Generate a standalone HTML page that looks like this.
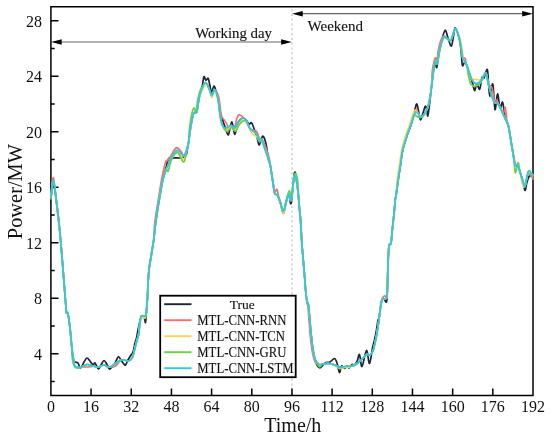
<!DOCTYPE html>
<html><head><meta charset="utf-8"><title>Power forecast</title>
<style>html,body{margin:0;padding:0;background:#fff}svg{display:block}text{font-family:"Liberation Serif",serif;fill:#111}.lg text{stroke:#111;stroke-width:0.12px}</style></head>
<body>
<svg width="550" height="439" viewBox="0 0 550 439">
<rect width="550" height="439" fill="#fff"/>
<line x1="291.95" y1="9" x2="291.95" y2="395.50" stroke="#b4b4b4" stroke-width="1" stroke-dasharray="2.2 2.6"/>
<rect x="50.90" y="6.75" width="482.10" height="388.75" fill="none" stroke="#000" stroke-width="1.5"/>
<path d="M50.90,353.85h7.6M50.90,298.31h7.6M50.90,242.78h7.6M50.90,187.24h7.6M50.90,131.71h7.6M50.90,76.17h7.6M50.90,20.63h7.6M50.90,381.62h3.8M50.90,326.08h3.8M50.90,270.54h3.8M50.90,215.01h3.8M50.90,159.47h3.8M50.90,103.94h3.8M50.90,48.40h3.8M91.08,395.50v-7M131.25,395.50v-7M171.43,395.50v-7M211.60,395.50v-7M251.78,395.50v-7M291.95,395.50v-7M332.12,395.50v-7M372.30,395.50v-7M412.48,395.50v-7M452.65,395.50v-7M492.82,395.50v-7" stroke="#000" stroke-width="1.5" fill="none"/>
<g fill="none" stroke-width="1.7" stroke-linejoin="round" stroke-linecap="round">
<path stroke="#1d2435" d="M51.00,198.00C51.42,195.67 52.33,181.33 53.50,184.00C54.67,186.67 56.82,204.67 58.00,214.00C59.18,223.33 59.67,229.50 60.60,240.00C61.53,250.50 62.67,265.33 63.60,277.00C64.53,288.67 65.68,304.17 66.20,310.00C66.70,315.83 66.40,311.37 66.70,312.00C67.00,312.63 67.45,311.13 68.00,313.80C68.55,316.47 69.40,322.80 70.00,328.00C70.60,333.20 71.10,340.00 71.60,345.00C72.10,350.00 72.43,355.17 73.00,358.00C73.57,360.83 74.17,361.17 75.00,362.00C75.83,362.83 77.08,362.00 78.00,363.00C78.92,364.00 79.50,368.17 80.50,368.00C81.50,367.83 82.92,363.67 84.00,362.00C85.08,360.33 86.00,358.17 87.00,358.00C88.00,357.83 89.00,359.83 90.00,361.00C91.00,362.17 92.17,364.67 93.00,365.00C93.83,365.33 94.08,362.33 95.00,363.00C95.92,363.67 97.42,368.83 98.50,369.00C99.58,369.17 100.58,365.42 101.50,364.00C102.42,362.58 103.08,360.42 104.00,360.50C104.92,360.58 106.08,363.08 107.00,364.50C107.92,365.92 108.67,368.58 109.50,369.00C110.33,369.42 111.25,367.67 112.00,367.00C112.75,366.33 113.25,366.17 114.00,365.00C114.75,363.83 115.75,361.42 116.50,360.00C117.25,358.58 117.75,356.50 118.50,356.50C119.25,356.50 120.17,358.83 121.00,360.00C121.83,361.17 122.75,362.67 123.50,363.50C124.25,364.33 124.75,365.58 125.50,365.00C126.25,364.42 127.08,361.67 128.00,360.00C128.92,358.33 130.17,356.33 131.00,355.00C131.83,353.67 132.33,354.00 133.00,352.00C133.67,350.00 134.42,345.33 135.00,343.00C135.58,340.67 136.00,340.17 136.50,338.00C137.00,335.83 137.42,332.83 138.00,330.00C138.58,327.17 139.42,323.33 140.00,321.00C140.58,318.67 140.83,316.75 141.50,316.00C142.17,315.25 143.33,315.42 144.00,316.50C144.67,317.58 145.10,323.25 145.50,322.50C145.90,321.75 146.07,316.25 146.40,312.00C146.73,307.75 147.23,301.50 147.50,297.00C147.77,292.50 147.75,289.50 148.00,285.00C148.25,280.50 148.45,275.00 149.00,270.00C149.55,265.00 150.52,260.00 151.30,255.00C152.08,250.00 153.00,245.17 153.70,240.00C154.40,234.83 154.87,229.00 155.50,224.00C156.13,219.00 156.75,214.83 157.50,210.00C158.25,205.17 159.15,199.83 160.00,195.00C160.85,190.17 161.60,185.50 162.60,181.00C163.60,176.50 165.02,171.67 166.00,168.00C166.98,164.33 167.50,160.63 168.50,159.00C169.50,157.37 170.78,158.40 172.00,158.20C173.22,158.00 174.63,157.83 175.80,157.80C176.97,157.77 177.80,158.05 179.00,158.00C180.20,157.95 181.83,157.92 183.00,157.50C184.17,157.08 185.23,157.08 186.00,155.50C186.77,153.92 187.13,150.42 187.60,148.00C188.07,145.58 188.37,144.00 188.80,141.00C189.23,138.00 189.47,134.40 190.20,130.00C190.93,125.60 192.45,117.53 193.20,114.60C193.95,111.67 194.08,112.90 194.70,112.40C195.32,111.90 196.18,113.92 196.90,111.60C197.62,109.28 198.12,102.68 199.00,98.50C199.88,94.32 201.38,90.13 202.20,86.50C203.02,82.87 203.28,77.73 203.90,76.70C204.52,75.67 205.18,80.02 205.90,80.30C206.62,80.58 207.52,77.45 208.20,78.40C208.88,79.35 209.47,83.62 210.00,86.00C210.53,88.38 210.75,92.68 211.40,92.70C212.05,92.72 213.13,86.38 213.90,86.10C214.67,85.82 215.32,88.93 216.00,91.00C216.68,93.07 217.28,94.50 218.00,98.50C218.72,102.50 219.58,111.58 220.30,115.00C221.02,118.42 221.52,117.00 222.30,119.00C223.08,121.00 224.03,124.33 225.00,127.00C225.97,129.67 227.27,134.83 228.10,135.00C228.93,135.17 229.38,130.18 230.00,128.00C230.62,125.82 231.25,121.90 231.80,121.90C232.35,121.90 232.82,125.93 233.30,128.00C233.78,130.07 234.17,134.13 234.70,134.30C235.23,134.47 235.90,131.05 236.50,129.00C237.10,126.95 237.27,123.83 238.30,122.00C239.33,120.17 241.37,118.27 242.70,118.00C244.03,117.73 245.25,119.40 246.30,120.40C247.35,121.40 248.10,123.57 249.00,124.00C249.90,124.43 250.70,121.78 251.70,123.00C252.70,124.22 254.12,128.97 255.00,131.30C255.88,133.63 256.33,134.73 257.00,137.00C257.67,139.27 258.33,144.40 259.00,144.90C259.67,145.40 260.32,141.45 261.00,140.00C261.68,138.55 262.27,135.58 263.10,136.20C263.93,136.82 265.15,140.02 266.00,143.70C266.85,147.38 267.53,154.92 268.20,158.30C268.87,161.68 269.53,162.12 270.00,164.00C270.47,165.88 270.47,166.23 271.00,169.60C271.53,172.97 272.58,180.27 273.20,184.20C273.82,188.13 273.97,191.32 274.70,193.20C275.43,195.08 276.63,193.85 277.60,195.50C278.57,197.15 279.53,200.13 280.50,203.10C281.47,206.07 282.43,213.55 283.40,213.30C284.37,213.05 285.40,204.75 286.30,201.60C287.20,198.45 287.98,194.15 288.80,194.40C289.62,194.65 290.23,206.75 291.20,203.10C292.17,199.45 293.53,174.93 294.60,172.50C295.67,170.07 296.78,182.42 297.60,188.50C298.42,194.58 299.02,203.92 299.50,209.00C299.98,214.08 300.08,213.00 300.50,219.00C300.92,225.00 301.33,235.67 302.00,245.00C302.67,254.33 303.90,267.50 304.50,275.00C305.10,282.50 305.15,285.33 305.60,290.00C306.05,294.67 306.72,300.42 307.20,303.00C307.68,305.58 307.87,300.50 308.50,305.50C309.13,310.50 310.25,325.58 311.00,333.00C311.75,340.42 312.33,345.67 313.00,350.00C313.67,354.33 314.33,356.50 315.00,359.00C315.67,361.50 316.17,363.50 317.00,365.00C317.83,366.50 319.00,368.00 320.00,368.00C321.00,368.00 322.00,365.92 323.00,365.00C324.00,364.08 324.83,363.00 326.00,362.50C327.17,362.00 328.58,362.67 330.00,362.00C331.42,361.33 333.33,358.33 334.50,358.50C335.67,358.67 336.17,360.67 337.00,363.00C337.83,365.33 338.75,372.00 339.50,372.50C340.25,373.00 340.67,366.67 341.50,366.00C342.33,365.33 343.58,368.50 344.50,368.50C345.42,368.50 346.25,366.08 347.00,366.00C347.75,365.92 348.17,368.25 349.00,368.00C349.83,367.75 351.17,364.92 352.00,364.50C352.83,364.08 353.17,366.00 354.00,365.50C354.83,365.00 356.08,363.33 357.00,361.50C357.92,359.67 358.67,353.67 359.50,354.50C360.33,355.33 360.83,367.17 362.00,366.50C363.17,365.83 365.25,351.00 366.50,350.50C367.75,350.00 368.50,363.92 369.50,363.50C370.50,363.08 371.67,351.92 372.50,348.00C373.33,344.08 373.83,343.00 374.50,340.00C375.17,337.00 375.92,333.33 376.50,330.00C377.08,326.67 377.67,321.17 378.00,320.00C378.33,318.83 378.00,326.00 378.50,323.00C379.07,320.00 380.48,306.00 381.40,302.00C382.32,298.00 383.15,299.00 384.00,299.00C384.85,299.00 385.95,303.33 386.50,302.00C387.05,300.67 387.05,297.17 387.30,291.00C387.55,284.83 387.72,272.50 388.00,265.00C388.28,257.50 388.50,249.67 389.00,246.00C389.50,242.33 390.42,246.00 391.00,243.00C391.58,240.00 392.00,232.83 392.50,228.00C393.00,223.17 393.53,218.83 394.00,214.00C394.47,209.17 394.98,201.90 395.30,199.00C395.62,196.10 395.40,199.93 395.90,196.60C396.40,193.27 397.53,184.33 398.30,179.00C399.07,173.67 399.77,169.43 400.50,164.60C401.23,159.77 401.63,154.75 402.70,150.00C403.77,145.25 405.58,140.12 406.90,136.10C408.22,132.08 409.42,129.58 410.60,125.90C411.78,122.22 413.22,116.98 414.00,114.00C414.78,111.02 414.82,109.67 415.30,108.00C415.78,106.33 416.33,103.33 416.90,104.00C417.47,104.67 418.10,109.33 418.70,112.00C419.30,114.67 419.78,119.83 420.50,120.00C421.22,120.17 422.20,115.30 423.00,113.00C423.80,110.70 424.67,106.70 425.30,106.20C425.93,105.70 426.38,108.37 426.80,110.00C427.22,111.63 427.38,116.67 427.80,116.00C428.22,115.33 428.83,109.50 429.30,106.00C429.77,102.50 430.23,98.17 430.60,95.00C430.97,91.83 431.02,91.00 431.50,87.00C431.98,83.00 432.87,75.00 433.50,71.00C434.13,67.00 434.75,63.60 435.30,63.00C435.85,62.40 436.18,68.98 436.80,67.40C437.42,65.82 438.15,58.07 439.00,53.50C439.85,48.93 440.88,43.88 441.90,40.00C442.92,36.12 444.08,30.53 445.10,30.20C446.12,29.87 446.97,35.33 448.00,38.00C449.03,40.67 450.38,46.53 451.30,46.20C452.22,45.87 452.83,39.03 453.50,36.00C454.17,32.97 454.32,27.50 455.30,28.00C456.28,28.50 458.42,35.00 459.40,39.00C460.38,43.00 460.70,47.58 461.20,52.00C461.70,56.42 461.80,63.83 462.40,65.50C463.00,67.17 464.03,61.92 464.80,62.00C465.57,62.08 466.08,63.65 467.00,66.00C467.92,68.35 469.38,73.27 470.30,76.10C471.22,78.93 471.78,80.58 472.50,83.00C473.22,85.42 473.88,90.43 474.60,90.60C475.32,90.77 475.95,84.23 476.80,84.00C477.65,83.77 478.85,90.28 479.70,89.20C480.55,88.12 481.18,79.37 481.90,77.50C482.62,75.63 483.10,79.33 484.00,78.00C484.90,76.67 486.53,68.50 487.30,69.50C488.07,70.50 488.17,79.52 488.60,84.00C489.03,88.48 489.20,96.40 489.90,96.40C490.60,96.40 491.95,81.80 492.80,84.00C493.65,86.20 494.22,107.97 495.00,109.60C495.78,111.23 496.65,94.07 497.50,93.80C498.35,93.53 499.25,106.58 500.10,108.00C500.95,109.42 501.75,100.58 502.60,102.30C503.45,104.02 504.55,115.18 505.20,118.30C505.85,121.42 505.93,119.60 506.50,121.00C507.07,122.40 507.77,122.83 508.60,126.70C509.43,130.57 510.65,139.10 511.50,144.20C512.35,149.30 513.07,153.75 513.70,157.30C514.33,160.85 514.67,164.22 515.30,165.50C515.93,166.78 516.72,163.92 517.50,165.00C518.28,166.08 519.17,169.50 520.00,172.00C520.83,174.50 521.67,176.92 522.50,180.00C523.33,183.08 524.25,190.17 525.00,190.50C525.75,190.83 526.25,184.42 527.00,182.00C527.75,179.58 528.50,176.83 529.50,176.00C530.50,175.17 532.42,176.83 533.00,177.00"/>
<path stroke="#fc6b6b" d="M51.00,196.00C51.42,193.00 52.40,175.00 53.50,178.00C54.60,181.00 56.42,203.67 57.60,214.00C58.78,224.33 59.60,229.50 60.60,240.00C61.60,250.50 62.67,265.33 63.60,277.00C64.53,288.67 65.68,304.17 66.20,310.00C66.70,315.83 66.40,311.37 66.70,312.00C67.00,312.63 67.45,311.13 68.00,313.80C68.55,316.47 69.40,322.80 70.00,328.00C70.60,333.20 71.00,339.67 71.60,345.00C72.20,350.33 73.03,356.50 73.60,360.00C74.17,363.50 73.93,364.75 75.00,366.00C76.07,367.25 78.50,367.33 80.00,367.50C81.50,367.67 82.67,367.08 84.00,367.00C85.33,366.92 86.67,367.08 88.00,367.00C89.33,366.92 91.17,366.67 92.00,366.50C92.83,366.33 92.00,365.92 93.00,366.00C94.00,366.08 96.17,367.17 98.00,367.00C99.83,366.83 102.33,365.00 104.00,365.00C105.67,365.00 106.50,366.67 108.00,367.00C109.50,367.33 111.67,367.25 113.00,367.00C114.33,366.75 115.00,366.33 116.00,365.50C117.00,364.67 118.33,362.83 119.00,362.00C119.67,361.17 119.17,360.83 120.00,360.50C120.83,360.17 122.67,359.92 124.00,360.00C125.33,360.08 126.83,361.08 128.00,361.00C129.17,360.92 130.17,360.33 131.00,359.50C131.83,358.67 132.33,357.92 133.00,356.00C133.67,354.08 134.33,350.67 135.00,348.00C135.67,345.33 136.42,342.17 137.00,340.00C137.58,337.83 138.00,338.00 138.50,335.00C139.00,332.00 139.50,325.17 140.00,322.00C140.50,318.83 140.58,317.00 141.50,316.00C142.42,315.00 144.67,317.00 145.50,316.00C146.33,315.00 146.17,313.17 146.50,310.00C146.83,306.83 147.25,301.17 147.50,297.00C147.75,292.83 147.75,289.50 148.00,285.00C148.25,280.50 148.45,275.00 149.00,270.00C149.55,265.00 150.52,260.00 151.30,255.00C152.08,250.00 153.15,245.17 153.70,240.00C154.25,234.83 154.12,229.00 154.60,224.00C155.08,219.00 155.85,214.83 156.60,210.00C157.35,205.17 158.22,200.33 159.10,195.00C159.98,189.67 160.82,183.50 161.90,178.00C162.98,172.50 164.75,164.83 165.60,162.00C166.45,159.17 166.15,162.00 167.00,161.00C167.85,160.00 169.12,158.23 170.70,156.00C172.28,153.77 174.68,148.20 176.50,147.60C178.32,147.00 180.38,151.00 181.60,152.40C182.82,153.80 182.82,156.90 183.80,156.00C184.78,155.10 186.67,149.50 187.50,147.00C188.33,144.50 188.35,143.83 188.80,141.00C189.25,138.17 189.47,134.40 190.20,130.00C190.93,125.60 192.45,117.53 193.20,114.60C193.95,111.67 194.08,112.90 194.70,112.40C195.32,111.90 196.18,113.92 196.90,111.60C197.62,109.28 198.15,102.38 199.00,98.50C199.85,94.62 200.90,90.97 202.00,88.30C203.10,85.63 204.38,82.38 205.60,82.50C206.82,82.62 208.28,86.82 209.30,89.00C210.32,91.18 210.80,95.47 211.70,95.60C212.60,95.73 213.53,89.57 214.70,89.80C215.87,90.03 217.73,93.63 218.70,97.00C219.67,100.37 219.95,106.67 220.50,110.00C221.05,113.33 221.32,115.27 222.00,117.00C222.68,118.73 223.82,119.23 224.60,120.40C225.38,121.57 226.00,122.57 226.70,124.00C227.40,125.43 228.08,128.67 228.80,129.00C229.52,129.33 230.05,126.33 231.00,126.00C231.95,125.67 233.50,128.33 234.50,127.00C235.50,125.67 236.25,120.07 237.00,118.00C237.75,115.93 238.17,114.85 239.00,114.60C239.83,114.35 241.17,115.85 242.00,116.50C242.83,117.15 243.28,117.85 244.00,118.50C244.72,119.15 245.30,118.75 246.30,120.40C247.30,122.05 248.72,126.72 250.00,128.40C251.28,130.08 252.92,130.02 254.00,130.50C255.08,130.98 255.75,130.38 256.50,131.30C257.25,132.22 257.83,134.38 258.50,136.00C259.17,137.62 259.83,140.33 260.50,141.00C261.17,141.67 261.58,138.83 262.50,140.00C263.42,141.17 264.88,144.95 266.00,148.00C267.12,151.05 268.53,155.63 269.20,158.30C269.87,160.97 269.70,162.12 270.00,164.00C270.30,165.88 270.47,166.23 271.00,169.60C271.53,172.97 272.58,180.47 273.20,184.20C273.82,187.93 274.08,191.15 274.70,192.00C275.32,192.85 276.27,188.63 276.90,189.30C277.53,189.97 277.90,193.70 278.50,196.00C279.10,198.30 279.68,200.58 280.50,203.10C281.32,205.62 282.43,211.35 283.40,211.10C284.37,210.85 285.40,204.38 286.30,201.60C287.20,198.82 287.98,194.68 288.80,194.40C289.62,194.12 290.23,203.07 291.20,199.90C292.17,196.73 293.53,177.30 294.60,175.40C295.67,173.50 296.78,182.90 297.60,188.50C298.42,194.10 299.02,203.92 299.50,209.00C299.98,214.08 300.08,213.00 300.50,219.00C300.92,225.00 301.33,235.67 302.00,245.00C302.67,254.33 303.90,267.50 304.50,275.00C305.10,282.50 305.15,285.33 305.60,290.00C306.05,294.67 306.80,300.17 307.20,303.00C307.60,305.83 307.53,302.00 308.00,307.00C308.47,312.00 309.33,325.83 310.00,333.00C310.67,340.17 311.33,345.67 312.00,350.00C312.67,354.33 313.33,356.75 314.00,359.00C314.67,361.25 315.17,362.58 316.00,363.50C316.83,364.42 317.83,364.42 319.00,364.50C320.17,364.58 321.33,364.17 323.00,364.00C324.67,363.83 327.00,363.33 329.00,363.50C331.00,363.67 333.17,364.33 335.00,365.00C336.83,365.67 338.33,367.25 340.00,367.50C341.67,367.75 343.17,366.75 345.00,366.50C346.83,366.25 349.33,366.25 351.00,366.00C352.67,365.75 353.67,365.67 355.00,365.00C356.33,364.33 357.67,363.17 359.00,362.00C360.33,360.83 361.67,359.25 363.00,358.00C364.33,356.75 365.83,355.00 367.00,354.50C368.17,354.00 369.00,355.58 370.00,355.00C371.00,354.42 372.17,353.00 373.00,351.00C373.83,349.00 374.33,346.00 375.00,343.00C375.67,340.00 376.42,336.33 377.00,333.00C377.58,329.67 377.77,328.33 378.50,323.00C379.23,317.67 380.40,305.50 381.40,301.00C382.40,296.50 383.63,296.67 384.50,296.00C385.37,295.33 386.13,297.83 386.60,297.00C387.07,296.17 387.07,296.33 387.30,291.00C387.53,285.67 387.72,272.50 388.00,265.00C388.28,257.50 388.50,249.67 389.00,246.00C389.50,242.33 390.42,246.00 391.00,243.00C391.58,240.00 392.00,232.83 392.50,228.00C393.00,223.17 393.53,218.83 394.00,214.00C394.47,209.17 394.98,201.90 395.30,199.00C395.62,196.10 395.40,199.93 395.90,196.60C396.40,193.27 397.53,184.33 398.30,179.00C399.07,173.67 399.77,169.43 400.50,164.60C401.23,159.77 401.63,154.75 402.70,150.00C403.77,145.25 405.58,140.12 406.90,136.10C408.22,132.08 409.12,130.28 410.60,125.90C412.08,121.52 414.57,111.95 415.80,109.80C417.03,107.65 417.05,111.80 418.00,113.00C418.95,114.20 420.03,117.52 421.50,117.00C422.97,116.48 425.45,112.78 426.80,109.90C428.15,107.02 428.82,103.52 429.60,99.70C430.38,95.88 431.05,91.78 431.50,87.00C431.95,82.22 431.85,75.33 432.30,71.00C432.75,66.67 433.63,63.25 434.20,61.00C434.77,58.75 435.20,57.50 435.70,57.50C436.20,57.50 436.82,61.92 437.20,61.00C437.58,60.08 437.43,55.33 438.00,52.00C438.57,48.67 439.60,43.67 440.60,41.00C441.60,38.33 442.33,36.10 444.00,36.00C445.67,35.90 448.72,41.62 450.60,40.40C452.48,39.18 453.83,28.93 455.30,28.70C456.77,28.47 458.38,35.45 459.40,39.00C460.42,42.55 460.75,46.67 461.40,50.00C462.05,53.33 462.70,57.63 463.30,59.00C463.90,60.37 464.38,57.03 465.00,58.20C465.62,59.37 466.12,63.02 467.00,66.00C467.88,68.98 469.27,73.52 470.30,76.10C471.33,78.68 472.17,80.23 473.20,81.50C474.23,82.77 475.17,83.85 476.50,83.70C477.83,83.55 479.67,82.42 481.20,80.60C482.73,78.78 484.50,72.23 485.70,72.80C486.90,73.37 487.35,81.47 488.40,84.00C489.45,86.53 490.98,85.17 492.00,88.00C493.02,90.83 493.67,98.92 494.50,101.00C495.33,103.08 495.95,99.20 497.00,100.50C498.05,101.80 499.68,106.72 500.80,108.80C501.92,110.88 502.97,113.23 503.70,113.00C504.43,112.77 504.65,106.07 505.20,107.40C505.75,108.73 506.43,117.78 507.00,121.00C507.57,124.22 507.85,122.83 508.60,126.70C509.35,130.57 510.65,139.10 511.50,144.20C512.35,149.30 513.07,153.75 513.70,157.30C514.33,160.85 514.67,164.22 515.30,165.50C515.93,166.78 516.72,163.92 517.50,165.00C518.28,166.08 519.17,169.50 520.00,172.00C520.83,174.50 521.67,177.58 522.50,180.00C523.33,182.42 524.25,187.00 525.00,186.50C525.75,186.00 526.25,179.08 527.00,177.00C527.75,174.92 528.50,173.67 529.50,174.00C530.50,174.33 532.42,178.17 533.00,179.00"/>
<path stroke="#ffd24e" d="M51.00,197.00C51.42,194.33 52.33,178.17 53.50,181.00C54.67,183.83 56.82,204.17 58.00,214.00C59.18,223.83 59.67,229.50 60.60,240.00C61.53,250.50 62.67,265.33 63.60,277.00C64.53,288.67 65.68,304.17 66.20,310.00C66.70,315.83 66.40,311.37 66.70,312.00C67.00,312.63 67.45,311.13 68.00,313.80C68.55,316.47 69.40,322.80 70.00,328.00C70.60,333.20 71.00,339.67 71.60,345.00C72.20,350.33 73.03,356.50 73.60,360.00C74.17,363.50 73.93,364.75 75.00,366.00C76.07,367.25 78.00,367.75 80.00,367.50C82.00,367.25 84.83,364.75 87.00,364.50C89.17,364.25 91.17,365.58 93.00,366.00C94.83,366.42 96.17,367.17 98.00,367.00C99.83,366.83 102.33,365.00 104.00,365.00C105.67,365.00 106.67,366.83 108.00,367.00C109.33,367.17 110.67,366.67 112.00,366.00C113.33,365.33 114.67,363.92 116.00,363.00C117.33,362.08 118.67,361.00 120.00,360.50C121.33,360.00 122.67,359.92 124.00,360.00C125.33,360.08 126.83,361.08 128.00,361.00C129.17,360.92 130.17,360.33 131.00,359.50C131.83,358.67 132.33,357.92 133.00,356.00C133.67,354.08 134.33,350.67 135.00,348.00C135.67,345.33 136.42,342.17 137.00,340.00C137.58,337.83 138.00,337.83 138.50,335.00C139.00,332.17 139.50,325.92 140.00,323.00C140.50,320.08 140.83,318.33 141.50,317.50C142.17,316.67 143.33,318.00 144.00,318.00C144.67,318.00 145.08,318.83 145.50,317.50C145.92,316.17 146.17,313.42 146.50,310.00C146.83,306.58 147.25,301.17 147.50,297.00C147.75,292.83 147.75,289.50 148.00,285.00C148.25,280.50 148.45,275.00 149.00,270.00C149.55,265.00 150.52,260.00 151.30,255.00C152.08,250.00 153.00,245.17 153.70,240.00C154.40,234.83 154.87,229.00 155.50,224.00C156.13,219.00 156.75,214.83 157.50,210.00C158.25,205.17 159.15,199.83 160.00,195.00C160.85,190.17 161.55,185.33 162.60,181.00C163.65,176.67 165.43,171.50 166.30,169.00C167.17,166.50 166.95,167.92 167.80,166.00C168.65,164.08 169.82,159.92 171.40,157.50C172.98,155.08 175.23,151.25 177.30,151.50C179.37,151.75 182.10,159.75 183.80,159.00C185.50,158.25 186.67,150.00 187.50,147.00C188.33,144.00 188.35,143.83 188.80,141.00C189.25,138.17 189.47,134.40 190.20,130.00C190.93,125.60 192.45,117.53 193.20,114.60C193.95,111.67 194.08,112.90 194.70,112.40C195.32,111.90 196.18,113.92 196.90,111.60C197.62,109.28 198.07,102.10 199.00,98.50C199.93,94.90 201.33,92.42 202.50,90.00C203.67,87.58 204.83,83.83 206.00,84.00C207.17,84.17 208.55,88.75 209.50,91.00C210.45,93.25 210.83,97.42 211.70,97.50C212.57,97.58 213.65,91.33 214.70,91.50C215.75,91.67 217.08,94.42 218.00,98.50C218.92,102.58 219.47,111.50 220.20,116.00C220.93,120.50 221.35,123.17 222.40,125.50C223.45,127.83 225.02,129.75 226.50,130.00C227.98,130.25 229.88,127.00 231.30,127.00C232.72,127.00 233.72,130.50 235.00,130.00C236.28,129.50 237.72,125.67 239.00,124.00C240.28,122.33 241.48,120.50 242.70,120.00C243.92,119.50 245.08,119.33 246.30,121.00C247.52,122.67 248.90,127.78 250.00,130.00C251.10,132.22 251.73,133.13 252.90,134.30C254.07,135.47 255.90,135.80 257.00,137.00C258.10,138.20 258.73,141.00 259.50,141.50C260.27,142.00 260.75,138.92 261.60,140.00C262.45,141.08 263.50,144.95 264.60,148.00C265.70,151.05 267.30,155.63 268.20,158.30C269.10,160.97 269.53,162.12 270.00,164.00C270.47,165.88 270.47,166.23 271.00,169.60C271.53,172.97 272.58,180.27 273.20,184.20C273.82,188.13 273.97,191.32 274.70,193.20C275.43,195.08 276.63,193.62 277.60,195.50C278.57,197.38 279.53,201.53 280.50,204.50C281.47,207.47 282.48,213.55 283.40,213.30C284.32,213.05 285.52,204.95 286.00,203.00C286.30,201.05 286.00,203.03 286.30,201.60C286.77,200.17 287.98,194.68 288.80,194.40C289.62,194.12 290.23,203.07 291.20,199.90C292.17,196.73 293.53,177.30 294.60,175.40C295.67,173.50 296.78,182.90 297.60,188.50C298.42,194.10 299.02,203.92 299.50,209.00C299.98,214.08 300.08,213.00 300.50,219.00C300.92,225.00 301.33,235.67 302.00,245.00C302.67,254.33 303.90,267.50 304.50,275.00C305.10,282.50 305.15,285.33 305.60,290.00C306.05,294.67 306.72,300.42 307.20,303.00C307.68,305.58 307.87,300.50 308.50,305.50C309.13,310.50 310.25,325.58 311.00,333.00C311.75,340.42 312.33,345.67 313.00,350.00C313.67,354.33 314.00,356.58 315.00,359.00C316.00,361.42 317.67,363.67 319.00,364.50C320.33,365.33 321.33,364.17 323.00,364.00C324.67,363.83 327.00,363.17 329.00,363.50C331.00,363.83 333.17,365.17 335.00,366.00C336.83,366.83 338.33,368.25 340.00,368.50C341.67,368.75 343.33,367.75 345.00,367.50C346.67,367.25 349.00,367.25 350.00,367.00C351.00,366.75 350.17,366.33 351.00,366.00C351.83,365.67 353.67,365.67 355.00,365.00C356.33,364.33 357.67,363.17 359.00,362.00C360.33,360.83 361.67,359.25 363.00,358.00C364.33,356.75 365.83,355.00 367.00,354.50C368.17,354.00 369.00,355.58 370.00,355.00C371.00,354.42 372.17,353.00 373.00,351.00C373.83,349.00 374.33,346.00 375.00,343.00C375.67,340.00 376.42,336.33 377.00,333.00C377.58,329.67 377.77,328.17 378.50,323.00C379.23,317.83 380.48,306.00 381.40,302.00C382.32,298.00 383.13,299.67 384.00,299.00C384.87,298.33 386.05,299.33 386.60,298.00C387.15,296.67 387.07,296.50 387.30,291.00C387.53,285.50 387.72,272.50 388.00,265.00C388.28,257.50 388.50,249.67 389.00,246.00C389.50,242.33 390.42,246.00 391.00,243.00C391.58,240.00 392.00,232.83 392.50,228.00C393.00,223.17 393.53,218.83 394.00,214.00C394.47,209.17 394.98,201.90 395.30,199.00C395.62,196.10 395.57,199.93 395.90,196.60C396.23,193.27 396.70,184.33 397.30,179.00C397.90,173.67 398.77,169.43 399.50,164.60C400.23,159.77 400.70,154.75 401.70,150.00C402.70,145.25 404.25,140.12 405.50,136.10C406.75,132.08 408.00,129.42 409.20,125.90C410.40,122.38 411.65,117.65 412.70,115.00C413.75,112.35 414.03,109.67 415.50,110.00C416.97,110.33 419.62,117.02 421.50,117.00C423.38,116.98 425.45,112.78 426.80,109.90C428.15,107.02 428.82,103.52 429.60,99.70C430.38,95.88 430.85,91.78 431.50,87.00C432.15,82.22 432.87,75.12 433.50,71.00C434.13,66.88 434.68,63.52 435.30,62.30C435.92,61.08 436.58,65.17 437.20,63.70C437.82,62.23 438.22,57.13 439.00,53.50C439.78,49.87 440.93,44.68 441.90,41.90C442.87,39.12 443.35,37.05 444.80,36.80C446.25,36.55 448.85,41.75 450.60,40.40C452.35,39.05 453.70,28.93 455.30,28.70C456.90,28.47 459.05,35.45 460.20,39.00C461.35,42.55 461.68,46.83 462.20,50.00C462.72,53.17 462.87,56.08 463.30,58.00C463.73,59.92 464.18,60.17 464.80,61.50C465.42,62.83 466.08,63.57 467.00,66.00C467.92,68.43 469.55,74.02 470.30,76.10C471.05,78.18 470.78,77.93 471.50,78.50C472.22,79.07 473.60,79.33 474.60,79.50C475.60,79.67 476.60,79.33 477.50,79.50C478.40,79.67 479.38,80.32 480.00,80.50C480.62,80.68 480.25,81.88 481.20,80.60C482.15,79.32 484.50,72.23 485.70,72.80C486.90,73.37 487.47,80.42 488.40,84.00C489.33,87.58 490.32,91.25 491.30,94.30C492.28,97.35 493.32,100.85 494.30,102.30C495.28,103.75 496.12,101.92 497.20,103.00C498.28,104.08 499.72,106.73 500.80,108.80C501.88,110.87 502.75,113.37 503.70,115.40C504.65,117.43 505.68,119.12 506.50,121.00C507.32,122.88 507.77,122.83 508.60,126.70C509.43,130.57 510.65,139.10 511.50,144.20C512.35,149.30 513.07,153.75 513.70,157.30C514.33,160.85 514.67,164.22 515.30,165.50C515.93,166.78 516.72,163.92 517.50,165.00C518.28,166.08 519.33,169.50 520.00,172.00C520.67,174.50 520.92,177.50 521.50,180.00C522.08,182.50 522.83,186.33 523.50,187.00C524.17,187.67 524.92,185.67 525.50,184.00C526.08,182.33 526.42,179.17 527.00,177.00C527.58,174.83 528.17,171.50 529.00,171.00C529.83,170.50 531.33,173.33 532.00,174.00C532.67,174.67 532.83,174.83 533.00,175.00"/>
<path stroke="#6dd040" d="M51.00,199.00C51.42,196.00 52.33,178.50 53.50,181.00C54.67,183.50 56.82,204.17 58.00,214.00C59.18,223.83 59.67,229.50 60.60,240.00C61.53,250.50 62.67,265.33 63.60,277.00C64.53,288.67 65.68,304.17 66.20,310.00C66.70,315.83 66.40,311.37 66.70,312.00C67.00,312.63 67.45,311.13 68.00,313.80C68.55,316.47 69.40,322.80 70.00,328.00C70.60,333.20 71.18,339.67 71.60,345.00C72.02,350.33 72.02,356.42 72.50,360.00C72.98,363.58 73.75,365.17 74.50,366.50C75.25,367.83 76.08,367.83 77.00,368.00C77.92,368.17 78.33,368.08 80.00,367.50C81.67,366.92 84.83,364.75 87.00,364.50C89.17,364.25 91.17,365.58 93.00,366.00C94.83,366.42 96.17,367.17 98.00,367.00C99.83,366.83 102.33,365.00 104.00,365.00C105.67,365.00 106.67,366.83 108.00,367.00C109.33,367.17 110.67,366.67 112.00,366.00C113.33,365.33 114.67,363.92 116.00,363.00C117.33,362.08 118.67,361.00 120.00,360.50C121.33,360.00 122.67,359.92 124.00,360.00C125.33,360.08 126.83,361.08 128.00,361.00C129.17,360.92 130.17,360.33 131.00,359.50C131.83,358.67 132.33,357.92 133.00,356.00C133.67,354.08 134.33,350.67 135.00,348.00C135.67,345.33 136.42,342.17 137.00,340.00C137.58,337.83 138.00,338.00 138.50,335.00C139.00,332.00 139.50,325.17 140.00,322.00C140.50,318.83 140.58,317.00 141.50,316.00C142.42,315.00 144.67,317.00 145.50,316.00C146.33,315.00 146.17,313.17 146.50,310.00C146.83,306.83 147.25,301.17 147.50,297.00C147.75,292.83 147.75,289.50 148.00,285.00C148.25,280.50 148.45,275.00 149.00,270.00C149.55,265.00 150.52,260.00 151.30,255.00C152.08,250.00 153.00,245.17 153.70,240.00C154.40,234.83 154.87,229.00 155.50,224.00C156.13,219.00 156.75,214.83 157.50,210.00C158.25,205.17 159.15,199.83 160.00,195.00C160.85,190.17 161.60,185.17 162.60,181.00C163.60,176.83 165.07,171.67 166.00,170.00C166.93,168.33 167.30,172.67 168.20,171.00C169.10,169.33 169.88,163.10 171.40,160.00C172.92,156.90 175.23,152.08 177.30,152.40C179.37,152.72 182.10,162.80 183.80,161.90C185.50,161.00 186.67,150.48 187.50,147.00C188.33,143.52 188.47,144.17 188.80,141.00C189.13,137.83 188.97,132.67 189.50,128.00C190.03,123.33 191.25,116.33 192.00,113.00C192.75,109.67 193.33,108.33 194.00,108.00C194.67,107.67 195.33,112.58 196.00,111.00C196.67,109.42 197.17,102.28 198.00,98.50C198.83,94.72 200.33,90.00 201.00,88.30C201.67,86.60 201.23,89.27 202.00,88.30C202.77,87.33 204.38,82.38 205.60,82.50C206.82,82.62 208.28,86.82 209.30,89.00C210.32,91.18 210.80,95.47 211.70,95.60C212.60,95.73 213.65,89.32 214.70,89.80C215.75,90.28 217.08,94.13 218.00,98.50C218.92,102.87 219.47,111.50 220.20,116.00C220.93,120.50 221.32,122.95 222.40,125.50C223.48,128.05 225.18,130.93 226.70,131.30C228.22,131.67 230.05,127.70 231.50,127.70C232.95,127.70 234.15,131.75 235.40,131.30C236.65,130.85 237.78,126.70 239.00,125.00C240.22,123.30 241.48,121.87 242.70,121.10C243.92,120.33 245.70,120.33 246.30,120.40C246.30,120.47 246.30,120.17 246.30,121.50C246.92,122.83 248.65,126.65 250.00,128.40C251.35,130.15 253.18,130.90 254.40,132.00C255.62,133.10 256.53,133.67 257.30,135.00C258.07,136.33 258.40,139.40 259.00,140.00C259.60,140.60 260.23,137.93 260.90,138.60C261.57,139.27 262.38,142.43 263.00,144.00C263.62,145.57 263.73,145.62 264.60,148.00C265.47,150.38 267.30,155.63 268.20,158.30C269.10,160.97 269.53,162.12 270.00,164.00C270.47,165.88 270.47,166.23 271.00,169.60C271.53,172.97 272.58,180.27 273.20,184.20C273.82,188.13 273.97,191.32 274.70,193.20C275.43,195.08 276.63,193.85 277.60,195.50C278.57,197.15 279.53,200.50 280.50,203.10C281.47,205.70 282.43,211.62 283.40,211.10C284.37,210.58 285.32,203.40 286.30,200.00C287.28,196.60 288.43,191.03 289.30,190.70C290.17,190.37 290.62,200.70 291.50,198.00C292.38,195.30 293.63,177.78 294.60,174.50C295.57,171.22 296.68,175.72 297.30,178.30C297.92,180.88 297.93,184.88 298.30,190.00C298.67,195.12 299.13,204.17 299.50,209.00C299.87,213.83 300.08,213.00 300.50,219.00C300.92,225.00 301.33,235.67 302.00,245.00C302.67,254.33 303.90,267.50 304.50,275.00C305.10,282.50 305.15,285.33 305.60,290.00C306.05,294.67 306.72,300.42 307.20,303.00C307.68,305.58 307.87,300.50 308.50,305.50C309.13,310.50 310.25,325.58 311.00,333.00C311.75,340.42 312.33,345.67 313.00,350.00C313.67,354.33 314.25,356.67 315.00,359.00C315.75,361.33 316.75,362.67 317.50,364.00C318.25,365.33 318.75,366.92 319.50,367.00C320.25,367.08 321.42,365.00 322.00,364.50C322.58,364.00 322.00,364.17 323.00,364.00C324.17,363.83 327.00,363.33 329.00,363.50C331.00,363.67 333.17,364.33 335.00,365.00C336.83,365.67 338.33,367.25 340.00,367.50C341.67,367.75 343.17,366.75 345.00,366.50C346.83,366.25 349.33,366.25 351.00,366.00C352.67,365.75 353.67,365.67 355.00,365.00C356.33,364.33 357.67,363.17 359.00,362.00C360.33,360.83 361.67,359.25 363.00,358.00C364.33,356.75 365.83,355.00 367.00,354.50C368.17,354.00 369.00,355.58 370.00,355.00C371.00,354.42 372.17,353.00 373.00,351.00C373.83,349.00 374.33,346.00 375.00,343.00C375.67,340.00 376.42,336.33 377.00,333.00C377.58,329.67 377.77,328.17 378.50,323.00C379.23,317.83 380.48,306.00 381.40,302.00C382.32,298.00 383.13,299.67 384.00,299.00C384.87,298.33 386.05,299.33 386.60,298.00C387.15,296.67 387.07,296.50 387.30,291.00C387.53,285.50 387.72,272.50 388.00,265.00C388.28,257.50 388.50,249.67 389.00,246.00C389.50,242.33 390.42,246.00 391.00,243.00C391.58,240.00 392.00,232.83 392.50,228.00C393.00,223.17 393.53,218.83 394.00,214.00C394.47,209.17 394.98,201.90 395.30,199.00C395.62,196.10 395.40,199.93 395.90,196.60C396.40,193.27 397.53,184.33 398.30,179.00C399.07,173.67 399.77,169.43 400.50,164.60C401.23,159.77 401.63,154.75 402.70,150.00C403.77,145.25 405.58,140.12 406.90,136.10C408.22,132.08 409.42,129.33 410.60,125.90C411.78,122.47 413.35,117.40 414.00,115.50C414.50,113.60 414.02,114.35 414.50,114.50C414.98,114.65 416.07,115.90 416.90,116.40C417.73,116.90 418.73,117.40 419.50,117.50C420.27,117.60 420.28,118.27 421.50,117.00C422.72,115.73 425.45,112.78 426.80,109.90C428.15,107.02 428.82,103.52 429.60,99.70C430.38,95.88 430.67,93.20 431.50,87.00C432.33,80.80 433.72,66.42 434.60,62.50C435.48,58.58 436.15,65.00 436.80,63.50C437.45,62.00 437.75,57.08 438.50,53.50C439.25,49.92 440.33,44.78 441.30,42.00C442.27,39.22 443.72,37.67 444.30,36.80C444.80,35.93 444.30,36.20 444.80,36.80C445.85,37.40 448.85,41.75 450.60,40.40C452.35,39.05 453.83,28.93 455.30,28.70C456.77,28.47 458.38,35.45 459.40,39.00C460.42,42.55 460.87,46.83 461.40,50.00C461.93,53.17 462.03,56.08 462.60,58.00C463.17,59.92 464.07,60.17 464.80,61.50C465.53,62.83 466.47,64.08 467.00,66.00C467.53,67.92 467.45,70.17 468.00,73.00C468.55,75.83 469.63,81.00 470.30,83.00C470.97,85.00 471.28,84.42 472.00,85.00C472.72,85.58 473.68,86.50 474.60,86.50C475.52,86.50 476.60,85.50 477.50,85.00C478.40,84.50 479.25,84.33 480.00,83.50C480.75,82.67 481.05,81.78 482.00,80.00C482.95,78.22 484.63,72.13 485.70,72.80C486.77,73.47 487.47,80.42 488.40,84.00C489.33,87.58 490.32,91.25 491.30,94.30C492.28,97.35 493.32,100.85 494.30,102.30C495.28,103.75 496.12,101.92 497.20,103.00C498.28,104.08 499.72,106.73 500.80,108.80C501.88,110.87 502.75,113.37 503.70,115.40C504.65,117.43 505.68,119.12 506.50,121.00C507.32,122.88 507.77,122.83 508.60,126.70C509.43,130.57 510.65,139.10 511.50,144.20C512.35,149.30 513.23,154.17 513.70,157.30C514.17,160.43 514.00,160.38 514.30,163.00C514.60,165.62 514.88,173.08 515.50,173.00C516.12,172.92 517.25,162.67 518.00,162.50C518.75,162.33 519.25,169.08 520.00,172.00C520.75,174.92 521.67,177.83 522.50,180.00C523.33,182.17 524.25,185.67 525.00,185.00C525.75,184.33 526.33,178.42 527.00,176.00C527.67,173.58 528.00,170.33 529.00,170.50C530.00,170.67 532.33,175.92 533.00,177.00"/>
<path stroke="#27caf0" d="M51.00,197.00C51.42,194.33 52.33,178.17 53.50,181.00C54.67,183.83 56.82,204.17 58.00,214.00C59.18,223.83 59.67,229.50 60.60,240.00C61.53,250.50 62.67,265.33 63.60,277.00C64.53,288.67 65.68,304.17 66.20,310.00C66.70,315.83 66.40,311.37 66.70,312.00C67.00,312.63 67.45,311.13 68.00,313.80C68.55,316.47 69.40,322.80 70.00,328.00C70.60,333.20 71.00,339.67 71.60,345.00C72.20,350.33 73.03,356.50 73.60,360.00C74.17,363.50 73.93,364.75 75.00,366.00C76.07,367.25 78.00,367.75 80.00,367.50C82.00,367.25 84.83,364.75 87.00,364.50C89.17,364.25 91.17,365.58 93.00,366.00C94.83,366.42 96.17,367.17 98.00,367.00C99.83,366.83 102.33,365.00 104.00,365.00C105.67,365.00 106.67,366.83 108.00,367.00C109.33,367.17 110.67,366.67 112.00,366.00C113.33,365.33 114.67,363.92 116.00,363.00C117.33,362.08 118.67,361.00 120.00,360.50C121.33,360.00 122.67,359.92 124.00,360.00C125.33,360.08 126.83,361.08 128.00,361.00C129.17,360.92 130.17,360.33 131.00,359.50C131.83,358.67 132.33,357.92 133.00,356.00C133.67,354.08 134.33,350.67 135.00,348.00C135.67,345.33 136.42,342.17 137.00,340.00C137.58,337.83 138.00,338.00 138.50,335.00C139.00,332.00 139.50,325.17 140.00,322.00C140.50,318.83 140.58,317.00 141.50,316.00C142.42,315.00 144.67,317.00 145.50,316.00C146.33,315.00 146.17,313.17 146.50,310.00C146.83,306.83 147.25,301.17 147.50,297.00C147.75,292.83 147.75,289.50 148.00,285.00C148.25,280.50 148.45,275.00 149.00,270.00C149.55,265.00 150.52,260.00 151.30,255.00C152.08,250.00 153.00,245.17 153.70,240.00C154.40,234.83 154.87,229.00 155.50,224.00C156.13,219.00 156.75,214.83 157.50,210.00C158.25,205.17 159.15,199.83 160.00,195.00C160.85,190.17 161.55,185.33 162.60,181.00C163.65,176.67 165.43,171.50 166.30,169.00C167.17,166.50 166.95,167.92 167.80,166.00C168.65,164.08 169.82,160.13 171.40,157.50C172.98,154.87 175.23,150.45 177.30,150.20C179.37,149.95 182.10,156.53 183.80,156.00C185.50,155.47 186.67,149.50 187.50,147.00C188.33,144.50 188.35,143.83 188.80,141.00C189.25,138.17 189.47,134.40 190.20,130.00C190.93,125.60 192.45,117.53 193.20,114.60C193.95,111.67 194.08,112.90 194.70,112.40C195.32,111.90 196.18,113.92 196.90,111.60C197.62,109.28 198.15,102.38 199.00,98.50C199.85,94.62 200.90,90.97 202.00,88.30C203.10,85.63 204.38,82.38 205.60,82.50C206.82,82.62 208.28,86.82 209.30,89.00C210.32,91.18 210.80,95.47 211.70,95.60C212.60,95.73 213.65,89.32 214.70,89.80C215.75,90.28 217.08,94.13 218.00,98.50C218.92,102.87 219.47,111.50 220.20,116.00C220.93,120.50 221.43,123.50 222.40,125.50C223.37,127.50 224.57,128.05 226.00,128.00C227.43,127.95 229.55,125.20 231.00,125.20C232.45,125.20 233.48,128.55 234.70,128.00C235.92,127.45 236.97,123.57 238.30,121.90C239.63,120.23 241.37,118.25 242.70,118.00C244.03,117.75 245.08,118.67 246.30,120.40C247.52,122.13 248.65,126.47 250.00,128.40C251.35,130.33 253.18,130.90 254.40,132.00C255.62,133.10 256.45,133.42 257.30,135.00C258.15,136.58 258.78,140.67 259.50,141.50C260.22,142.33 260.75,138.92 261.60,140.00C262.45,141.08 263.50,144.95 264.60,148.00C265.70,151.05 267.30,155.63 268.20,158.30C269.10,160.97 269.53,162.12 270.00,164.00C270.47,165.88 270.47,166.23 271.00,169.60C271.53,172.97 272.58,180.27 273.20,184.20C273.82,188.13 273.97,191.32 274.70,193.20C275.43,195.08 276.63,193.85 277.60,195.50C278.57,197.15 279.53,200.50 280.50,203.10C281.47,205.70 282.43,211.35 283.40,211.10C284.37,210.85 285.40,204.38 286.30,201.60C287.20,198.82 287.98,194.68 288.80,194.40C289.62,194.12 290.23,203.07 291.20,199.90C292.17,196.73 293.53,177.30 294.60,175.40C295.67,173.50 296.78,182.90 297.60,188.50C298.42,194.10 299.02,203.92 299.50,209.00C299.98,214.08 300.08,213.00 300.50,219.00C300.92,225.00 301.33,235.67 302.00,245.00C302.67,254.33 303.90,267.50 304.50,275.00C305.10,282.50 305.15,285.33 305.60,290.00C306.05,294.67 306.72,300.42 307.20,303.00C307.68,305.58 307.87,300.50 308.50,305.50C309.13,310.50 310.25,325.58 311.00,333.00C311.75,340.42 312.33,345.67 313.00,350.00C313.67,354.33 314.00,356.58 315.00,359.00C316.00,361.42 317.67,363.67 319.00,364.50C320.33,365.33 321.33,364.17 323.00,364.00C324.67,363.83 327.00,363.33 329.00,363.50C331.00,363.67 333.17,364.33 335.00,365.00C336.83,365.67 338.33,367.25 340.00,367.50C341.67,367.75 343.17,366.75 345.00,366.50C346.83,366.25 349.33,366.25 351.00,366.00C352.67,365.75 353.67,365.67 355.00,365.00C356.33,364.33 357.67,363.17 359.00,362.00C360.33,360.83 361.67,359.25 363.00,358.00C364.33,356.75 365.83,355.00 367.00,354.50C368.17,354.00 369.00,355.58 370.00,355.00C371.00,354.42 372.17,353.00 373.00,351.00C373.83,349.00 374.33,346.00 375.00,343.00C375.67,340.00 376.42,336.33 377.00,333.00C377.58,329.67 377.77,328.17 378.50,323.00C379.23,317.83 380.48,306.00 381.40,302.00C382.32,298.00 383.13,299.67 384.00,299.00C384.87,298.33 386.05,299.33 386.60,298.00C387.15,296.67 387.07,296.50 387.30,291.00C387.53,285.50 387.72,272.50 388.00,265.00C388.28,257.50 388.50,249.67 389.00,246.00C389.50,242.33 390.42,246.00 391.00,243.00C391.58,240.00 392.00,232.83 392.50,228.00C393.00,223.17 393.53,218.83 394.00,214.00C394.47,209.17 394.98,201.90 395.30,199.00C395.62,196.10 395.40,199.93 395.90,196.60C396.40,193.27 397.53,184.33 398.30,179.00C399.07,173.67 399.77,169.43 400.50,164.60C401.23,159.77 401.63,154.75 402.70,150.00C403.77,145.25 405.58,140.12 406.90,136.10C408.22,132.08 409.42,129.33 410.60,125.90C411.78,122.47 413.03,117.82 414.00,115.50C414.97,113.18 415.15,111.75 416.40,112.00C417.65,112.25 419.77,117.35 421.50,117.00C423.23,116.65 425.45,112.78 426.80,109.90C428.15,107.02 428.82,103.52 429.60,99.70C430.38,95.88 430.85,91.78 431.50,87.00C432.15,82.22 432.87,75.12 433.50,71.00C434.13,66.88 434.68,63.52 435.30,62.30C435.92,61.08 436.58,65.17 437.20,63.70C437.82,62.23 438.22,57.13 439.00,53.50C439.78,49.87 440.93,44.68 441.90,41.90C442.87,39.12 443.35,37.05 444.80,36.80C446.25,36.55 448.85,41.75 450.60,40.40C452.35,39.05 453.83,28.93 455.30,28.70C456.77,28.47 458.38,35.45 459.40,39.00C460.42,42.55 460.87,46.83 461.40,50.00C461.93,53.17 462.03,56.08 462.60,58.00C463.17,59.92 464.07,60.17 464.80,61.50C465.53,62.83 466.08,63.57 467.00,66.00C467.92,68.43 469.27,73.52 470.30,76.10C471.33,78.68 472.17,80.23 473.20,81.50C474.23,82.77 475.17,83.85 476.50,83.70C477.83,83.55 479.67,82.42 481.20,80.60C482.73,78.78 484.50,72.23 485.70,72.80C486.90,73.37 487.47,80.42 488.40,84.00C489.33,87.58 490.32,91.25 491.30,94.30C492.28,97.35 493.32,100.85 494.30,102.30C495.28,103.75 496.12,101.92 497.20,103.00C498.28,104.08 499.72,106.73 500.80,108.80C501.88,110.87 502.75,113.37 503.70,115.40C504.65,117.43 505.68,119.12 506.50,121.00C507.32,122.88 507.77,122.83 508.60,126.70C509.43,130.57 510.65,139.10 511.50,144.20C512.35,149.30 513.07,153.75 513.70,157.30C514.33,160.85 514.67,164.22 515.30,165.50C515.93,166.78 516.72,163.92 517.50,165.00C518.28,166.08 519.17,169.50 520.00,172.00C520.83,174.50 521.67,177.58 522.50,180.00C523.33,182.42 524.25,187.00 525.00,186.50C525.75,186.00 526.33,179.58 527.00,177.00C527.67,174.42 528.17,171.50 529.00,171.00C529.83,170.50 531.33,173.33 532.00,174.00C532.67,174.67 532.83,174.83 533.00,175.00"/>
</g>
<g font-size="16px" text-anchor="end">
<text x="42" y="359.85">4</text>
<text x="42" y="304.31">8</text>
<text x="42" y="248.78">12</text>
<text x="42" y="193.24">16</text>
<text x="42" y="137.71">20</text>
<text x="42" y="82.17">24</text>
<text x="42" y="26.63">28</text>
</g>
<g font-size="16px" text-anchor="middle">
<text x="50.90" y="411.6">0</text>
<text x="91.08" y="411.6">16</text>
<text x="131.25" y="411.6">32</text>
<text x="171.43" y="411.6">48</text>
<text x="211.60" y="411.6">64</text>
<text x="251.78" y="411.6">80</text>
<text x="291.95" y="411.6">96</text>
<text x="332.12" y="411.6">112</text>
<text x="372.30" y="411.6">128</text>
<text x="412.48" y="411.6">144</text>
<text x="452.65" y="411.6">160</text>
<text x="492.82" y="411.6">176</text>
<text x="533.00" y="411.6">192</text>
</g>
<text x="292.8" y="432" font-size="20px" text-anchor="middle">Time/h</text>
<text transform="translate(21.8,191.6) rotate(-90)" font-size="20.4px" text-anchor="middle">Power/MW</text>
<line x1="55.90" y1="42.00" x2="286.95" y2="42.00" stroke="#666" stroke-width="1.2"/><path d="M51.10,42.00l10.6,-2.8v5.6z" fill="#000"/><path d="M291.75,42.00l-10.6,-2.8v5.6z" fill="#000"/>
<line x1="296.95" y1="13.70" x2="528.00" y2="13.70" stroke="#666" stroke-width="1.2"/><path d="M292.15,13.70l10.6,-2.8v5.6z" fill="#000"/><path d="M532.80,13.70l-10.6,-2.8v5.6z" fill="#000"/>
<text x="195.3" y="37.6" font-size="14.85px" stroke="#111" stroke-width="0.12">Working day</text>
<text x="307.6" y="31.2" font-size="15px" stroke="#111" stroke-width="0.12">Weekend</text>
<g class="lg">
<rect x="160.2" y="295.7" width="135.5" height="81.5" fill="#fff" stroke="#000" stroke-width="1.8"/>
<line x1="164.2" y1="304.20" x2="191.5" y2="304.20" stroke="#1d2435" stroke-width="1.9"/>
<text x="242.2" y="309.30" font-size="13.5px" text-anchor="middle" stroke="none">True</text>
<line x1="164.2" y1="320.20" x2="191.5" y2="320.20" stroke="#fc6b6b" stroke-width="1.9"/>
<text transform="translate(197.3,324.70) scale(0.91,1)" font-size="14px">MTL-CNN-RNN</text>
<line x1="164.2" y1="336.20" x2="191.5" y2="336.20" stroke="#ffd24e" stroke-width="1.9"/>
<text transform="translate(197.3,340.70) scale(0.91,1)" font-size="14px">MTL-CNN-TCN</text>
<line x1="164.2" y1="352.20" x2="191.5" y2="352.20" stroke="#6dd040" stroke-width="1.9"/>
<text transform="translate(197.3,356.70) scale(0.91,1)" font-size="14px">MTL-CNN-GRU</text>
<line x1="164.2" y1="368.20" x2="191.5" y2="368.20" stroke="#27caf0" stroke-width="1.9"/>
<text transform="translate(197.3,372.70) scale(0.91,1)" font-size="14px">MTL-CNN-LSTM</text>
</g>
</svg></body></html>
